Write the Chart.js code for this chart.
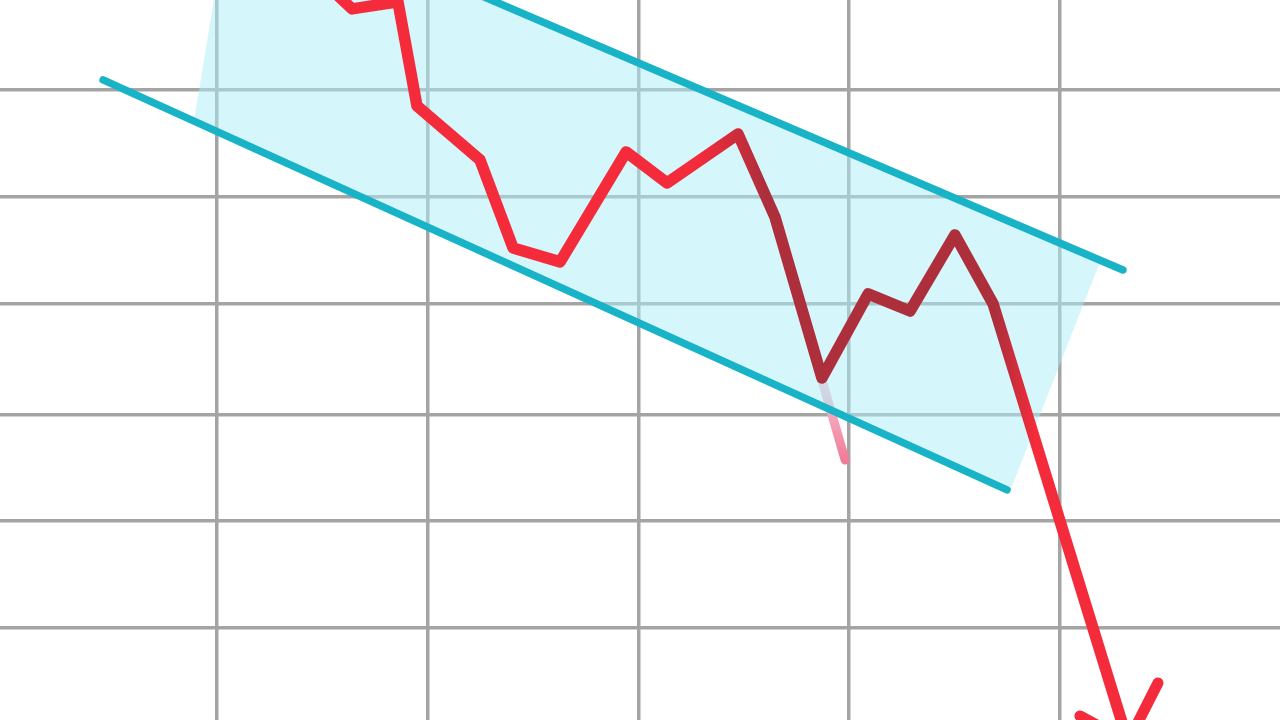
<!DOCTYPE html>
<html>
<head>
<meta charset="utf-8">
<script src="https://cdn.jsdelivr.net/npm/chart.js@4.4.1/dist/chart.umd.min.js"></script>
<style>
html,body{margin:0;padding:0;background:#ffffff;overflow:hidden;}
canvas{display:block;}
</style>
</head>
<body>
<canvas id="c" width="1280" height="720"></canvas>
<script>
// ---- data (x in grid-column units, y in price units) ----
const xGridTicks = [1, 2, 3, 4, 5];
const yGridTicks = [10, 19.9, 29.8, 40.1, 50.1, 60];

const priceX = [1.537, 1.642, 1.860, 1.950, 2.249, 2.406, 2.629, 2.942, 3.136, 3.473, 3.648, 3.871, 4.090, 4.289, 4.502, 4.683, 5.323];
const priceY = [69.49, 67.54, 68.19, 58.51, 53.49, 45.30, 44.00, 54.23, 51.35, 55.90, 48.18, 33.20, 41.02, 39.43, 46.51, 40.09, -0.67];

const wickX = [3.871, 3.981];
const wickY = [33.0, 25.57];

const arrowX = [5.095, 5.323, 5.465];
const arrowY = [1.75, -0.67, 4.82];

const upperX = [2.202, 5.299];
const upperY = [69.21, 43.25];

const lowerX = [0.461, 4.749];
const lowerY = [60.93, 22.78];

const bandX = [1.073, 0.892, 4.763, 5.190, 1.073];
const bandY = [78.70, 57.09, 22.65, 43.99, 78.70];

const zip = (xs, ys) => xs.map((x, i) => ({x: x, y: ys[i]}));

const RED = '#f32b3a';
const DARK = '#ae2f3c';
const TEAL = '#19b3c7';

function mainGradient(ctx) {
  const chart = ctx.chart;
  if (!chart.chartArea) return RED;
  const xs = chart.scales.x;
  const x0 = xs.getPixelForValue(3.29), x1 = xs.getPixelForValue(4.88);
  const g = chart.ctx.createLinearGradient(x0, 0, x1, 0);
  const p = (v) => (xs.getPixelForValue(v) - x0) / (x1 - x0);
  g.addColorStop(0, RED);
  g.addColorStop(p(3.60), DARK);
  g.addColorStop(p(4.70), DARK);
  g.addColorStop(1, RED);
  return g;
}

function wickGradient(ctx) {
  const chart = ctx.chart;
  if (!chart.chartArea) return '#f3a0b4';
  const ys = chart.scales.y;
  const y0 = ys.getPixelForValue(wickY[0]), y1 = ys.getPixelForValue(wickY[1]);
  const g = chart.ctx.createLinearGradient(0, y0, 0, y1);
  g.addColorStop(0, '#f7c8d6');
  g.addColorStop(1, '#f27c98');
  return g;
}

new Chart(document.getElementById('c'), {
  type: 'scatter',
  data: {
    datasets: [
      {
        data: zip(arrowX, arrowY), showLine: true, pointRadius: 0,
        borderColor: RED, borderWidth: 11, borderCapStyle: 'round', borderJoinStyle: 'miter',
        tension: 0, order: 1
      },
      {
        data: zip(priceX, priceY), showLine: true, pointRadius: 0,
        borderColor: mainGradient, borderWidth: 11.5, borderCapStyle: 'butt', borderJoinStyle: 'round',
        tension: 0, order: 2
      },
      {
        data: zip(upperX, upperY), showLine: true, pointRadius: 0,
        borderColor: TEAL, borderWidth: 7.5, borderCapStyle: 'round', tension: 0, order: 3
      },
      {
        data: zip(lowerX, lowerY), showLine: true, pointRadius: 0,
        borderColor: TEAL, borderWidth: 7.5, borderCapStyle: 'round', tension: 0, order: 3
      },
      {
        data: zip(bandX, bandY), showLine: true, pointRadius: 0,
        borderWidth: 0, borderColor: 'rgba(0,0,0,0)',
        backgroundColor: 'rgba(172,238,248,0.5)', fill: 'shape', tension: 0, order: 4
      },
      {
        data: zip(wickX, wickY), showLine: true, pointRadius: 0,
        borderColor: wickGradient, borderWidth: 9, borderCapStyle: 'round', tension: 0, order: 5
      }
    ]
  },
  options: {
    responsive: false,
    animation: false,
    events: [],
    layout: { padding: 0 },
    plugins: { legend: { display: false }, tooltip: { enabled: false } },
    scales: {
      x: {
        type: 'linear', min: -0.028, max: 6.044,
        afterBuildTicks: (s) => { s.ticks = xGridTicks.map(v => ({value: v})); },
        ticks: { display: false },
        border: { display: false },
        grid: { color: '#a4a4a4', lineWidth: 3.5, drawTicks: false }
      },
      y: {
        type: 'linear', min: 1.37, max: 68.37,
        afterBuildTicks: (s) => { s.ticks = yGridTicks.map(v => ({value: v})); },
        ticks: { display: false },
        border: { display: false },
        grid: { color: '#a4a4a4', lineWidth: 3.5, drawTicks: false }
      }
    }
  }
});
</script>
</body>
</html>
